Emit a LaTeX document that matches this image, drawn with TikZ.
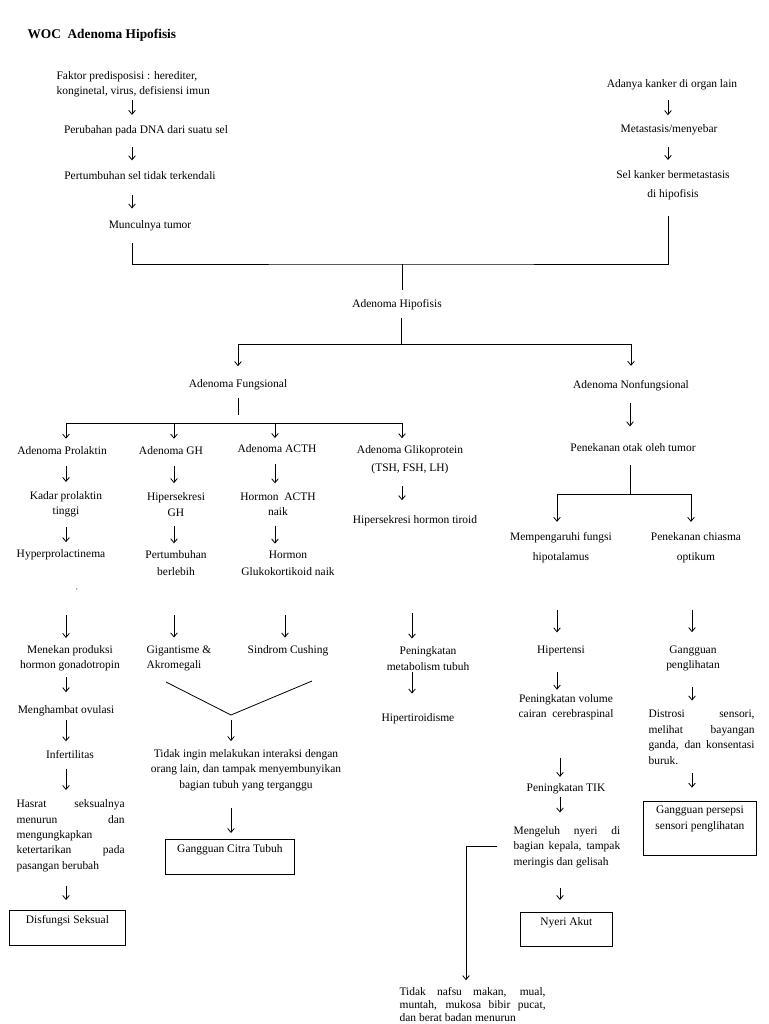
\documentclass[tikz,border=0pt]{standalone}
\usepackage{fontspec}
\setmainfont{Liberation Serif}
\usetikzlibrary{arrows.meta}

\begin{document}
\begin{tikzpicture}[x=0.75pt, y=-0.75pt,
  every node/.style={inner sep=1pt, font=\fontsize{8.6}{11.6}\selectfont},
  garis/.style={line width=0.6pt},
  panah/.style={line width=0.6pt, -{Straight Barb[length=3pt,width=5pt]}},
  kotak/.style={draw, line width=0.6pt, anchor=north west, inner xsep=0pt, inner ysep=3.5pt}]
\useasboundingbox (0,0) rectangle (768,1024);

% kolom panah
\coordinate (kA) at (132,0);
\coordinate (kB) at (668,0);
\coordinate (k1) at (66,0);
\coordinate (k2) at (174,0);
\coordinate (k3) at (275,0);
\coordinate (k3b) at (285,0);
\coordinate (k4) at (402,0);
\coordinate (k4b) at (412,0);
\coordinate (k5) at (630,0);
\coordinate (k6) at (557,0);
\coordinate (k7) at (692,0);
\coordinate (k8) at (231,0);
\coordinate (k9) at (560,0);
\coordinate (k10) at (466,0);

% titik cabang
\coordinate (gabung) at (402,264);
\coordinate (bagi) at (401,344);
\coordinate (bagi2) at (238,423);
\coordinate (cProl) at (66,423);
\coordinate (cGH) at (174,423);
\coordinate (cACTH) at (275,423);
\coordinate (cGliko) at (402,423);
\coordinate (bagi3) at (630,494);
\coordinate (cHipo) at (557,494);
\coordinate (cChi) at (691,494);
\coordinate (vKiri) at (166,682);
\coordinate (vKanan) at (312,681);
\coordinate (vTemu) at (231,715);

\node[anchor=west, font=\bfseries\fontsize{10}{12}\selectfont] (judul) at (26,35) {WOC~ Adenoma Hipofisis};

\node[anchor=west, align=left] (faktor) at (55,84) {Faktor predisposisi : herediter,\\ konginetal, virus, defisiensi imun};
\node (dna) at (146,131) {Perubahan pada DNA dari suatu sel};
\node (tumbuh) at (140,176) {Pertumbuhan sel tidak terkendali};
\node (tumor) at (150,226) {Munculnya tumor};
\node (kanker) at (672,85) {Adanya kanker di organ lain};
\node (meta) at (669,130) {Metastasis/menyebar};
\node[align=center] (selmeta) at (673,185.5) {Sel kanker bermetastasis\\[2.6pt] di hipofisis};

\node (hipofisis) at (397,305) {Adenoma Hipofisis};
\node (fungsional) at (238,385) {Adenoma Fungsional};
\node (nonfungsional) at (631,386) {Adenoma Nonfungsional};

\node (prolaktin) at (62,451) {Adenoma Prolaktin};
\node (gh) at (171,451) {Adenoma GH};
\node (acth) at (277,449) {Adenoma ACTH};
\node[align=center] (gliko) at (410,460) {Adenoma Glikoprotein\\[1.9pt] (TSH, FSH, LH)};
\node[align=center] (kadar) at (66,504.5) {Kadar prolaktin\\ tinggi};
\node[align=center] (sekresiGH) at (176,504.5) {Hipersekresi\\ GH};
\node[align=center] (acthNaik) at (278,504.5) {Hormon~ ACTH\\ naik};
\node (tiroid) at (415,521) {Hipersekresi hormon tiroid};
\node (hyper) at (61,555) {Hyperprolactinema};
\node[align=center] (berlebih) at (176,563.5) {Pertumbuhan\\[1.2pt] berlebih};
\node[align=center] (gluko) at (288,563.5) {Hormon\\[1.2pt] Glukokortikoid naik};
\node[font=\fontsize{5}{6}\selectfont] (titik) at (77,590) {,};

\node (otak) at (633,448) {Penekanan otak oleh tumor};
\node[align=center] (hipotalamus) at (561,548) {Mempengaruhi fungsi\\[3.4pt] hipotalamus};
\node[align=center] (chiasma) at (696,548) {Penekanan chiasma\\[3.4pt] optikum};

\node[align=center] (menekan) at (70,658.5) {Menekan produksi\\ hormon gonadotropin};
\node[anchor=west, align=left] (gigantisme) at (145,658.5) {Gigantisme \&\\ Akromegali};
\node (cushing) at (288,651) {Sindrom Cushing};
\node[align=center] (metabolisme) at (428,658.5) {Peningkatan\\ metabolism tubuh};
\node (hipertensi) at (561,651) {Hipertensi};
\node[align=center] (penglihatan) at (693,658.5) {Gangguan\\ penglihatan};

\node (ovulasi) at (66,711) {Menghambat ovulasi};
\node (hipertiroid) at (418,719) {Hipertiroidisme};
\node[align=center] (volume) at (566,707.5) {Peningkatan volume\\ cairan~ cerebraspinal};
\node[anchor=north west, align=left] (distrosi) at (647,708.5) {\makebox[79.5pt][s]{Distrosi sensori,}\\ \makebox[79.5pt][s]{melihat bayangan}\\ \makebox[79.5pt][s]{ganda, dan konsentasi}\\ buruk.};
\node (infertil) at (70,755) {Infertilitas};
\node[align=center] (tidakIngin) at (246,770) {Tidak ingin melakukan interaksi dengan\\ orang lain, dan tampak menyembunyikan\\ bagian tubuh yang terganggu};
\node (tik) at (566,789) {Peningkatan TIK};

\node[anchor=north west, align=left] (hasrat) at (15,798) {\makebox[81pt][s]{Hasrat seksualnya}\\ \makebox[81pt][s]{menurun dan}\\ mengungkapkan\\ \makebox[81pt][s]{ketertarikan pada}\\ pasangan berubah};
\node[kotak] (persepsi) at (643,801) {\parbox[c][33.5pt][t]{84.75pt}{\centering Gangguan persepsi\\ sensori penglihatan}};
\node[kotak] (citra) at (165,839) {\parbox[c][19.25pt][t]{96.75pt}{\centering Gangguan Citra Tubuh}};
\node[anchor=north west, align=left] (mengeluh) at (512,824.5) {\makebox[80pt][s]{Mengeluh nyeri di}\\ \makebox[80pt][s]{bagian kepala, tampak}\\ meringis dan gelisah};
\node[kotak] (disfungsi) at (9,910) {\parbox[c][19.25pt][t]{87pt}{\centering Disfungsi Seksual}};
\node[kotak] (nyeri) at (520,912) {\parbox[c][18.5pt][t]{69pt}{\centering Nyeri Akut}};
\node[anchor=north west, align=left, font=\fontsize{8.6}{9.8}\selectfont] (nafsu) at (398,985.5) {\makebox[109.5pt][s]{Tidak nafsu makan, mual,}\\ \makebox[109.5pt][s]{muntah, mukosa bibir pucat,}\\ dan berat badan menurun};

% bagian atas
\draw[panah, shorten <=1pt, shorten >=7pt] (faktor.south -| kA) -- (dna.north -| kA);
\draw[panah, shorten <=7pt, shorten >=7.5pt] (dna.south -| kA) -- (tumbuh.north -| kA);
\draw[panah, shorten <=10pt, shorten >=8pt] (tumbuh.south -| kA) -- (tumor.north -| kA);
\draw[panah, shorten <=6pt, shorten >=6pt] (kanker.south -| kB) -- (meta.north -| kB);
\draw[panah, shorten <=7.5pt, shorten >=7pt] (meta.south -| kB) -- (selmeta.north -| kB);
\draw[garis, shorten <=8pt, shorten >=10.5pt] (tumor.south -| kA) |- (gabung) -| (selmeta.south -| kB);
\draw[garis, shorten >=6pt] (gabung) -- (gabung |- hipofisis.north);

\draw[garis, shorten <=4.5pt] (hipofisis.south -| bagi) -- (bagi);
\draw[panah, shorten >=9pt] (bagi) -| (fungsional.north);
\draw[panah, shorten >=10pt] (bagi) -| (nonfungsional.north);

% adenoma fungsional
\draw[garis, shorten <=4.5pt, shorten >=6pt] (fungsional.south) -- (bagi2);
\draw[garis] (cProl) -- (cGliko);
\draw[panah, shorten >=5pt] (cProl) -- (cProl |- prolaktin.north);
\draw[panah, shorten >=5pt] (cGH) -- (cGH |- gh.north);
\draw[panah, shorten >=4pt] (cACTH) -- (cACTH |- acth.north);
\draw[panah, shorten >=4.5pt] (cGliko) -- (cGliko |- gliko.north);

\draw[panah, shorten <=7pt, shorten >=6pt] (prolaktin.south -| k1) -- (kadar.north -| k1);
\draw[panah, shorten <=6pt, shorten >=4.5pt] (kadar.south -| k1) -- (hyper.north -| k1);
\draw[panah, shorten <=40pt, shorten >=4.5pt] (hyper.south -| k1) -- (menekan.north -| k1);
\draw[panah, shorten <=3pt, shorten >=9pt] (menekan.south -| k1) -- (ovulasi.north -| k1);
\draw[panah, shorten <=2pt, shorten >=6pt] (ovulasi.south -| k1) -- (infertil.north -| k1);
\draw[panah, shorten <=6pt, shorten >=6pt] (infertil.south -| k1) -- (hasrat.north -| k1);
\draw[panah, shorten <=9pt, shorten >=7.5pt] (hasrat.south -| k1) -- (disfungsi.north -| k1);

\draw[panah, shorten <=7pt, shorten >=6pt] (gh.south -| k2) -- (sekresiGH.north -| k2);
\draw[panah, shorten <=6pt, shorten >=4.5pt] (sekresiGH.south -| k2) -- (berlebih.north -| k2);
\draw[panah, shorten <=28pt, shorten >=5pt] (berlebih.south -| k2) -- (gigantisme.north -| k2);

\draw[panah, shorten <=7pt, shorten >=6pt] (acth.south -| k3) -- (acthNaik.north -| k3);
\draw[panah, shorten <=6pt, shorten >=4.5pt] (acthNaik.south -| k3) -- (gluko.north -| k3);
\draw[panah, shorten <=28pt, shorten >=5pt] (gluko.south -| k3b) -- (cushing.north -| k3b);

\draw[garis] (vKiri) -- (vTemu) -- (vKanan);
\draw[panah, shorten <=4pt, shorten >=5pt] (vTemu) -- (vTemu |- tidakIngin.north);
\draw[panah, shorten <=12pt, shorten >=4.5pt] (tidakIngin.south -| k8) -- (citra.north -| k8);

\draw[panah, shorten <=8pt, shorten >=10.5pt] (gliko.south -| k4) -- (tiroid.north -| k4);
\draw[panah, shorten <=64pt, shorten >=5pt] (tiroid.south -| k4b) -- (metabolisme.north -| k4b);
\draw[panah, shorten >=14pt] (metabolisme.south -| k4b) -- (hipertiroid.north -| k4b);

% adenoma nonfungsional
\draw[panah, shorten <=7.5pt, shorten >=12pt] (nonfungsional.south -| k5) -- (otak.north -| k5);
\draw[garis, shorten <=8.5pt] (otak.south -| k5) -- (bagi3);
\draw[garis] (cHipo) -- (cChi);
\draw[panah, shorten >=7pt] (cHipo) -- (cHipo |- hipotalamus.north);
\draw[panah, shorten >=7pt] (cChi) -- (cChi |- chiasma.north);

\draw[panah, shorten <=34pt, shorten >=9pt] (hipotalamus.south -| k6) -- (hipertensi.north -| k6);
\draw[panah, shorten <=11pt, shorten >=2.5pt] (hipertensi.south -| k6) -- (volume.north -| k6);
\draw[panah, shorten <=27pt, shorten >=4pt] (volume.south -| k9) -- (tik.north -| k9);
\draw[panah, shorten <=1pt, shorten >=9pt] (tik.south -| k9) -- (mengeluh.north -| k9);
\draw[panah, shorten <=14pt, shorten >=9pt] (mengeluh.south -| k9) -- (nyeri.north -| k9);
\draw[panah, shorten <=11pt, shorten >=4pt] (mengeluh.west) -| (nafsu.north -| k10);

\draw[panah, shorten <=34pt, shorten >=9pt] (chiasma.south -| k7) -- (penglihatan.north -| k7);
\draw[panah, shorten <=10.5pt, shorten >=6pt] (penglihatan.south -| k7) -- (distrosi.north -| k7);
\draw[panah, shorten <=5.5pt, shorten >=10pt] (distrosi.south -| k7) -- (persepsi.north -| k7);

\end{tikzpicture}
\end{document}
